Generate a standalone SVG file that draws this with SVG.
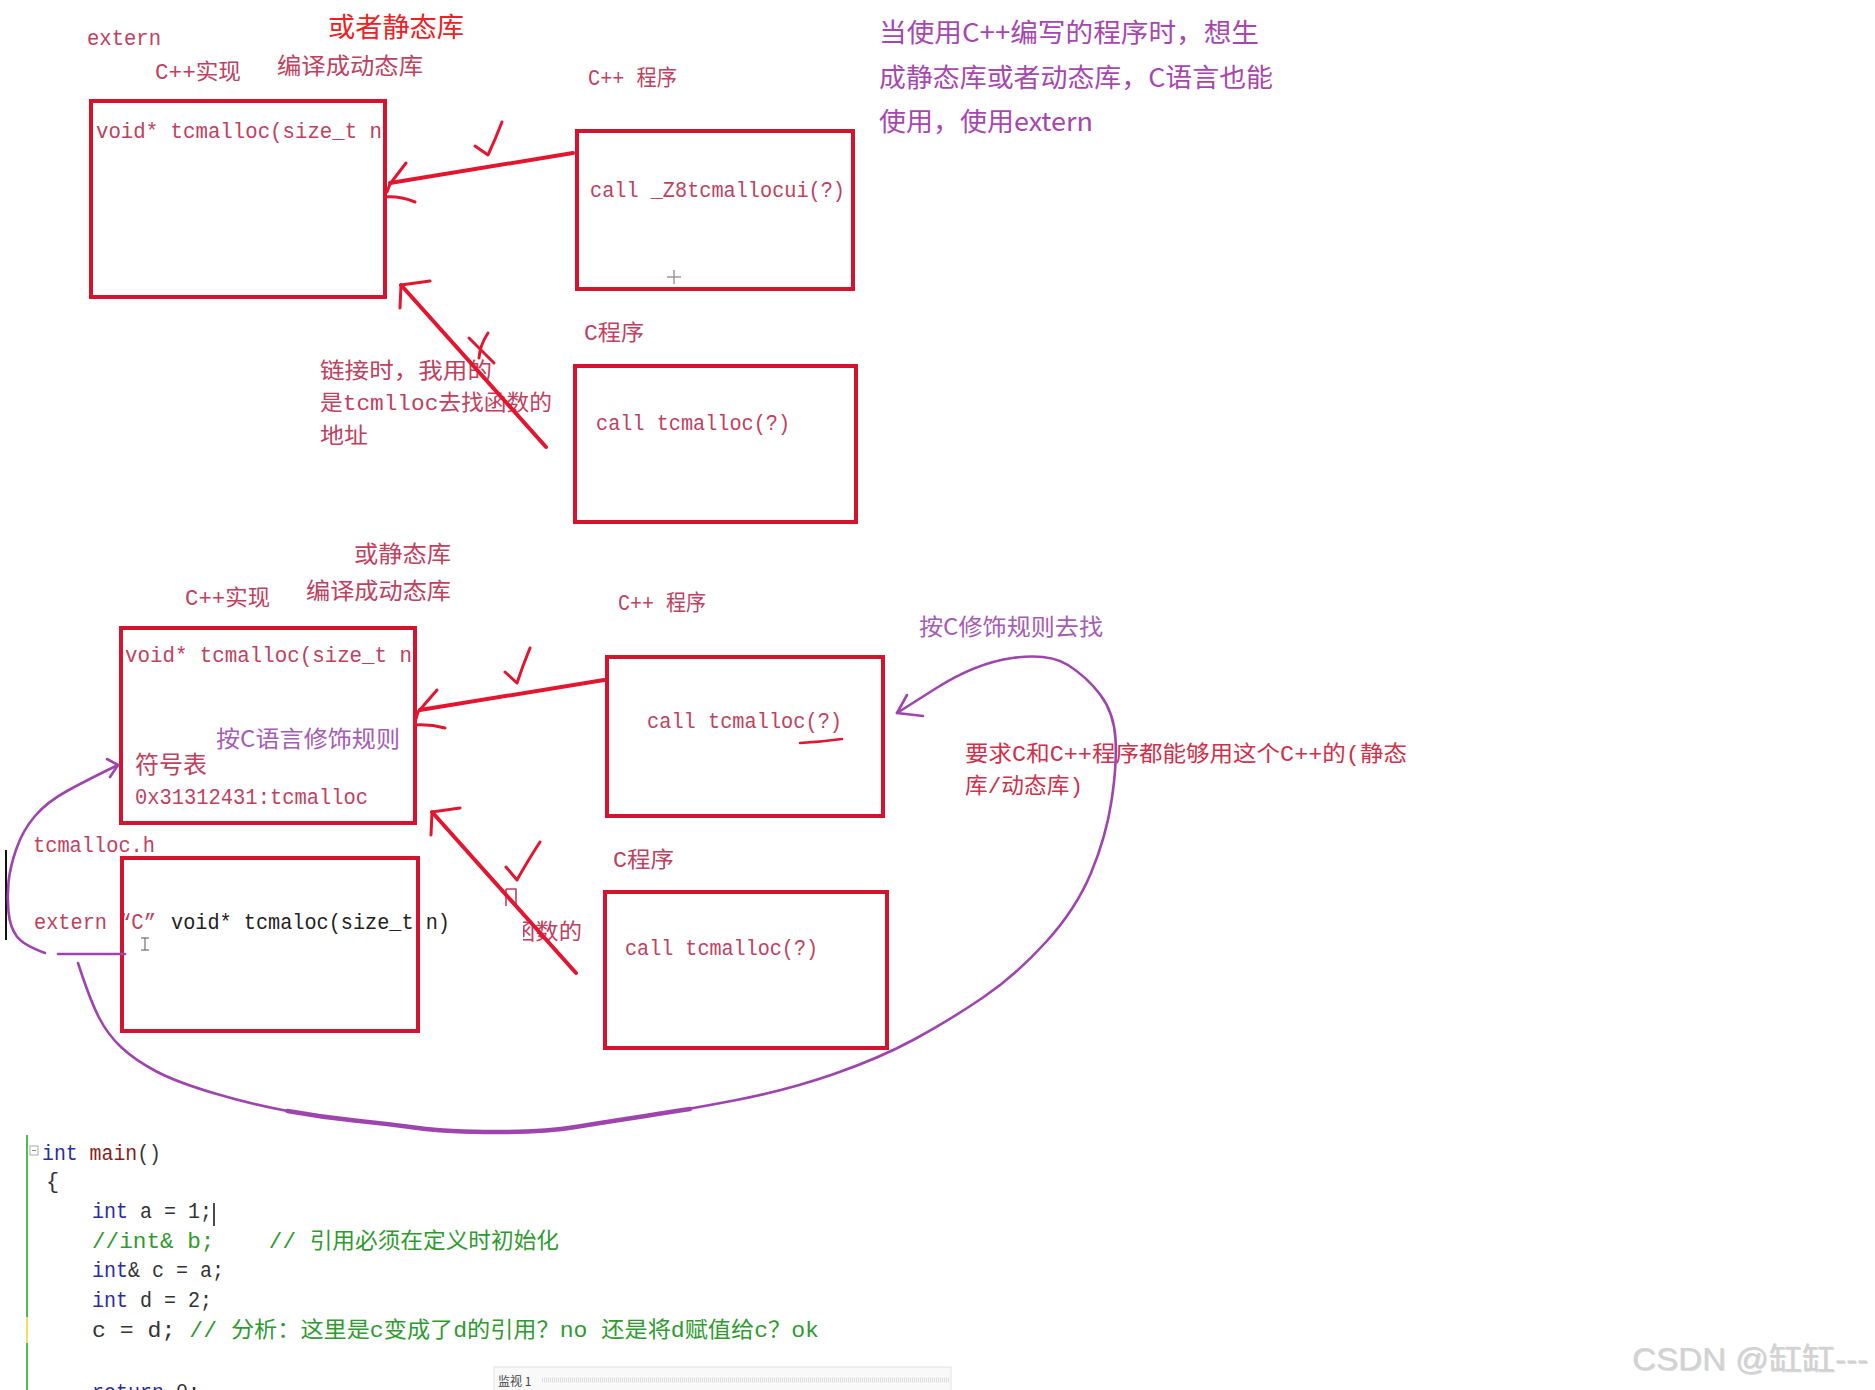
<svg xmlns="http://www.w3.org/2000/svg" width="1875" height="1390" viewBox="0 0 1875 1390">
<style>
.bx{fill:none;stroke:#d5132f;stroke-width:4}
.ar{fill:none;stroke:#e3162f;stroke-width:4;stroke-linecap:round;stroke-linejoin:round}
.ar3{fill:none;stroke:#e3162f;stroke-width:3;stroke-linecap:round;stroke-linejoin:round}
.pu{fill:none;stroke:#9d45ad;stroke-width:2.6;stroke-linecap:round;stroke-linejoin:round}
.t{font-family:"Noto Sans CJK SC",sans-serif;font-size:23px;fill:#c0405e}
.m{font-family:"Liberation Mono","Noto Sans CJK SC",monospace;font-size:22px;fill:#c0405e}
.pt{font-family:"Noto Sans CJK SC",sans-serif;font-size:23px;fill:#a55cb5}
.big{font-family:"Noto Sans CJK SC",sans-serif;font-size:26px;fill:#a846b0}
.rd{font-family:"Noto Sans CJK SC",sans-serif;font-size:27px;fill:#ee2024}
.code{font-family:"Liberation Mono","Noto Sans CJK SC",monospace;font-size:22px;fill:#333;white-space:pre}
.kw{fill:#2b2ba6}
.cm{fill:#2f9a2f}
</style>
<defs>
<clipPath id="clipHan"><rect x="523" y="900" width="80" height="60"/></clipPath>
</defs>
<rect width="1875" height="1390" fill="#fff"/>

<!-- top section labels -->
<g id="lbl-top">
<text class="m" x="87" y="45" textLength="74" lengthAdjust="spacingAndGlyphs">extern</text>
<text class="rd" x="328" y="37" textLength="136" lengthAdjust="spacingAndGlyphs">或者静态库</text>
<text class="m" x="155" y="79" textLength="86" lengthAdjust="spacingAndGlyphs">C++实现</text>
<text class="t" x="277" y="74" textLength="146" lengthAdjust="spacingAndGlyphs">编译成动态库</text>
<text class="m" x="588" y="85" textLength="89" lengthAdjust="spacingAndGlyphs">C++ 程序</text>
<text class="m" x="584" y="340" textLength="60" lengthAdjust="spacingAndGlyphs">C程序</text>
<text class="m" x="320" y="378" textLength="172" lengthAdjust="spacingAndGlyphs">链接时，我用的</text>
<text class="m" x="320" y="410" textLength="232" lengthAdjust="spacingAndGlyphs">是tcmlloc去找函数的</text>
<text class="m" x="320" y="443" textLength="48" lengthAdjust="spacingAndGlyphs">地址</text>
</g>
<g id="note-top">
<text class="big" x="879" y="42" textLength="380" lengthAdjust="spacingAndGlyphs">当使用C++编写的程序时，想生</text>
<text class="big" x="879" y="87" textLength="394" lengthAdjust="spacingAndGlyphs">成静态库或者动态库，C语言也能</text>
<text class="big" x="879" y="131" textLength="214" lengthAdjust="spacingAndGlyphs">使用，使用extern</text>
</g>

<g id="node-cpp-impl-top">
<rect class="bx" x="91" y="101" width="294" height="196"/>
<text class="m" x="96" y="138" textLength="286" lengthAdjust="spacingAndGlyphs">void* tcmalloc(size_t n</text>
</g>
<g id="node-cpp-prog-top">
<rect class="bx" x="577" y="131" width="276" height="158"/>
<text class="m" x="590" y="197" textLength="255" lengthAdjust="spacingAndGlyphs">call _Z8tcmallocui(?)</text>
<path d="M674,270 v14 M667,277 h14" stroke="#999" stroke-width="1.5" fill="none"/>
</g>
<g id="node-c-prog-top">
<rect class="bx" x="575" y="366" width="281" height="156"/>
<text class="m" x="596" y="430" textLength="194" lengthAdjust="spacingAndGlyphs">call tcmalloc(?)</text>
</g>

<!-- bottom section labels -->
<g id="lbl-bottom">
<text class="t" x="354" y="562" textLength="97" lengthAdjust="spacingAndGlyphs">或静态库</text>
<text class="t" x="306" y="599" textLength="145" lengthAdjust="spacingAndGlyphs">编译成动态库</text>
<text class="m" x="185" y="605" textLength="85" lengthAdjust="spacingAndGlyphs">C++实现</text>
<text class="m" x="618" y="610" textLength="88" lengthAdjust="spacingAndGlyphs">C++ 程序</text>
<text class="pt" x="919" y="635" textLength="184" lengthAdjust="spacingAndGlyphs">按C修饰规则去找</text>
<text class="m" x="965" y="761" textLength="442" lengthAdjust="spacingAndGlyphs" style="fill:#d0304a">要求C和C++程序都能够用这个C++的(静态</text>
<text class="m" x="965" y="793" textLength="118" lengthAdjust="spacingAndGlyphs" style="fill:#d0304a">库/动态库)</text>
<text class="m" x="33" y="852" textLength="122" lengthAdjust="spacingAndGlyphs">tcmalloc.h</text>
<text class="m" x="613" y="867" textLength="61" lengthAdjust="spacingAndGlyphs">C程序</text>
<text class="m" x="512" y="939" textLength="70" lengthAdjust="spacingAndGlyphs" clip-path="url(#clipHan)">函数的</text>
<path d="M506,889 v17 M506,889 h10 v17" stroke="#c0405e" stroke-width="1.6" fill="none"/>
</g>

<g id="node-cpp-impl-bottom">
<rect class="bx" x="121" y="628" width="294" height="195"/>
<text class="m" x="125" y="662" textLength="287" lengthAdjust="spacingAndGlyphs">void* tcmalloc(size_t n</text>
<text class="pt" x="216" y="747" textLength="184" lengthAdjust="spacingAndGlyphs">按C语言修饰规则</text>
<text class="m" x="135" y="773" textLength="72" lengthAdjust="spacingAndGlyphs" style="font-size:24px">符号表</text>
<text class="m" x="135" y="804" textLength="233" lengthAdjust="spacingAndGlyphs">0x31312431:tcmalloc</text>
</g>
<g id="node-cpp-prog-bottom">
<rect class="bx" x="607" y="657" width="276" height="159"/>
<text class="m" x="647" y="728" textLength="195" lengthAdjust="spacingAndGlyphs">call tcmalloc(?)</text>
<path d="M800,743 Q820,742 842,739" stroke="#e3162f" stroke-width="2.5" fill="none" stroke-linecap="round"/>
</g>
<g id="node-c-prog-bottom">
<rect class="bx" x="605" y="892" width="282" height="156"/>
<text class="m" x="625" y="955" textLength="193" lengthAdjust="spacingAndGlyphs">call tcmalloc(?)</text>
</g>
<g id="node-header">
<text class="m" x="34" y="929" textLength="73" lengthAdjust="spacingAndGlyphs">extern</text>
<text class="m" x="119" y="929" textLength="37" lengthAdjust="spacingAndGlyphs">“C”</text>
<text class="m" x="171" y="929" textLength="279" lengthAdjust="spacingAndGlyphs" style="fill:#222">void* tcmaloc(size_t n)</text>
<rect class="bx" x="122" y="858" width="296" height="173"/>
<path d="M141,938 h8 M145,938 v12 M141,950 h8" stroke="#555" stroke-width="1" fill="none"/>
<line x1="6" y1="850" x2="6" y2="940" stroke="#111" stroke-width="2"/>
</g>

<!-- connectors -->
<g id="connectors">
<path class="ar" d="M573,153 L390,183"/>
<path class="ar3" d="M406,163 L390,184 L387,192 M385,197 Q400,196 415,202"/>
<path class="ar3" d="M475,146 L488,155 Q495,140 502,122"/>
<path class="ar" d="M546,447 L401,285"/>
<path class="ar3" d="M401,285 L430,281 M401,285 L400,308"/>
<path class="ar3" d="M469,338 L494,363 M488,333 Q480,345 479,358"/>

<path class="ar" d="M604,680 L420,710"/>
<path class="ar3" d="M437,690 L418,712 L415,722 M415,725 Q430,724 445,728"/>
<path class="ar3" d="M505,672 L517,683 Q523,665 530,648"/>
<path class="ar" d="M576,973 L432,812"/>
<path class="ar3" d="M432,812 L460,808 M432,812 L431,835"/>
<path class="ar3" d="M506,867 L517,880 Q527,862 540,842"/>

<path class="pu" d="M78,963 Q90,1000 99,1017.5 Q108,1035 121.5,1047.5 Q135,1060 155.5,1071 Q176,1082 215,1093.5 Q254,1105 287.5,1111 Q321,1117 354.5,1120.5 Q388,1124 418,1128 Q448,1132 496.5,1132 Q545,1132 575.5,1127 Q606,1122 645.5,1116 Q685,1110 736.5,1100 Q788,1090 834,1074 Q880,1058 915,1039 Q950,1020 983,997.5 Q1016,975 1046,942 Q1076,909 1091,873 Q1106,837 1111.5,801 Q1117,765 1115.5,739 Q1114,713 1100.5,695 Q1087,677 1068,665 Q1049,653 1012.5,658 Q976,663 936.5,688 L897,713"/>
<path class="pu" style="stroke-width:4.5" d="M287.5,1111 Q321,1117 354.5,1120.5 Q388,1124 418,1128 Q448,1132 496.5,1132 Q545,1132 575.5,1127 Q606,1122 645.5,1116 Q670,1112 690,1109"/>
<path class="pu" d="M907,695 L897,713 L923,716"/>
<path class="pu" d="M45,953 Q23,945 16.5,936 Q10,927 8.5,912 Q7,897 8.5,882 Q10,867 16.5,848.5 Q23,830 35,816 Q47,802 67,791 Q87,780 118,765"/>
<path class="pu" d="M107,759 L118,765 L110,777"/>
<path class="pu" d="M58,954 L125,954"/>
</g>

<!-- code editor -->
<g id="code">
<line x1="27" y1="1135" x2="27" y2="1390" stroke="#4cc04c" stroke-width="2"/>
<line x1="27" y1="1317" x2="27" y2="1343" stroke="#f0e060" stroke-width="2"/>
<rect x="30" y="1146" width="8" height="9" fill="none" stroke="#aaa" stroke-width="1"/>
<line x1="32" y1="1150.5" x2="36" y2="1150.5" stroke="#888" stroke-width="1"/>
<text class="code" x="42" y="1160" textLength="119" lengthAdjust="spacingAndGlyphs"><tspan class="kw">int</tspan> <tspan fill="#8b1c1c">main</tspan>()</text>
<text class="code" x="46" y="1188">{</text>
<text class="code" x="92" y="1218" textLength="120" lengthAdjust="spacingAndGlyphs"><tspan class="kw">int</tspan> a = 1;</text>
<line x1="214" y1="1203" x2="214" y2="1226" stroke="#111" stroke-width="1.5"/>
<text class="code cm" x="92" y="1248" textLength="467" lengthAdjust="spacingAndGlyphs" xml:space="preserve">//int&amp; b;    // 引用必须在定义时初始化</text>
<text class="code" x="92" y="1277" textLength="132" lengthAdjust="spacingAndGlyphs"><tspan class="kw">int</tspan>&amp; c = a;</text>
<text class="code" x="92" y="1307" textLength="120" lengthAdjust="spacingAndGlyphs"><tspan class="kw">int</tspan> d = 2;</text>
<text class="code" x="92" y="1337" textLength="727" lengthAdjust="spacingAndGlyphs">c = d; <tspan class="cm">// 分析：这里是c变成了d的引用？no 还是将d赋值给c？ok</tspan></text>
<text class="code" x="92" y="1399" textLength="108" lengthAdjust="spacingAndGlyphs"><tspan class="kw">return</tspan> 0;</text>
</g>
<g id="watch-panel">
<rect x="494" y="1367" width="457" height="30" fill="#f9f9f9" stroke="#e2e2e2" stroke-width="1"/>
<text x="498" y="1386" font-family="Noto Sans CJK SC, sans-serif" font-size="12" fill="#444">监视 1</text>
<line x1="542" y1="1380" x2="950" y2="1380" stroke="#dcdcdc" stroke-width="5" stroke-dasharray="1 1"/>
</g>
<g id="watermark">
<text x="1633" y="1371" font-family="Liberation Sans, Noto Sans CJK SC, sans-serif" font-size="31" fill="#9a9a9a" opacity="0.35" textLength="236" lengthAdjust="spacingAndGlyphs">CSDN @缸缸---</text>
<text x="1632" y="1370" font-family="Liberation Sans, Noto Sans CJK SC, sans-serif" font-size="31" fill="#d2d2d2" textLength="236" lengthAdjust="spacingAndGlyphs">CSDN @缸缸---</text>
</g>
</svg>
